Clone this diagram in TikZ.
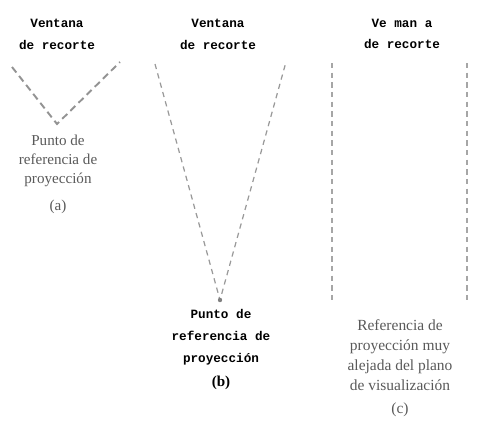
\documentclass[tikz,border=0pt]{standalone}
\usepackage{fontspec}
\setmainfont{Liberation Serif}
\newfontfamily\kopfont{Liberation Mono}
\begin{document}
\begin{tikzpicture}[x=0.02cm, y=-0.02cm,
	rand/.style={gray!85, line width=1.1pt, dash pattern=on 4pt off 2.5pt},
	randdun/.style={gray!80, line width=0.7pt, dash pattern=on 3pt off 2.5pt},
	kop/.style={font=\kopfont\bfseries\fontsize{7.2}{12.4}\selectfont, align=center, inner sep=0pt},
	bijschrift/.style={font=\fontsize{8.6}{11}\selectfont, text=black!65, align=center, inner sep=0pt}]
	% kader
	\useasboundingbox (0,0) rectangle (494,423);
	
	% (a)
	\node[kop] (kopA) at (57,34) {Ventana\\de recorte};
	\coordinate (linksA) at (12,67);
	\coordinate (rechtsA) at (120,62);
	\coordinate (puntA) at (57,124);
	\draw[rand] (linksA) -- (puntA) -- (rechtsA);
	\node[bijschrift] (tekstA) at (58,161) {Punto de\\referencia de\\proyección};
	\node[bijschrift] (labelA) at (58,207) {(a)};
	
	% (b)
	\node[kop] (kopB) at (218,34) {Ventana\\de recorte};
	\coordinate (linksB) at (155,64);
	\coordinate (rechtsB) at (286,62);
	\coordinate (puntB) at (220,300);
	\draw[randdun] (linksB) -- (puntB) -- (rechtsB);
	\fill[gray] (puntB) circle (2.2);
	\node[kop] (tekstB) at (221,337) {Punto de\\referencia de\\proyección};
	\node[bijschrift, text=black, font=\bfseries\fontsize{8.6}{11}\selectfont] (labelB) at (221,383) {(b)};
	
	% (c)
	\node[kop] (kopC) at (402,34) {Ve man a\\de recorte};
	\coordinate (linksC) at (332,63);
	\coordinate (rechtsC) at (467,63);
	\draw[randdun, gray!70] (linksC) -- ++(0,240);
	\draw[randdun, gray!70] (rechtsC) -- ++(0,240);
	\node[bijschrift, font=\fontsize{8.8}{11.4}\selectfont] (tekstC) at (400,355) {Referencia de\\proyección muy\\alejada del plano\\de visualización};
	\node[bijschrift, font=\fontsize{8.8}{11.4}\selectfont] (labelC) at (400,410) {(c)};
\end{tikzpicture}
\end{document}
